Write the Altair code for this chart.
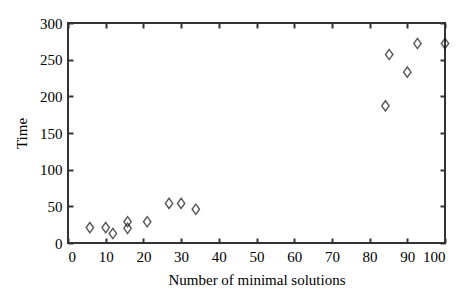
import altair as alt
import pandas as pd

# Data
xs = [5.8, 10.0, 11.9, 15.8, 15.8, 21.0, 26.8, 30.0, 33.9, 84.2, 85.2, 90.0, 92.7, 100.0]
ys = [21, 21, 13, 29, 20, 29, 54, 54, 46, 187, 257, 233, 272, 272]

x_ticks = [0, 10, 20, 30, 40, 50, 60, 70, 80, 90, 100]
y_ticks = [0, 50, 100, 150, 200, 250, 300]

W, H = 377, 220
FONT = "Liberation Serif"
LINE = "#333333"

df = pd.DataFrame({"x": xs, "y": ys})

xscale = alt.Scale(domain=[0, 100], nice=False, zero=False)
yscale = alt.Scale(domain=[0, 300], nice=False, zero=False)

common = dict(domain=False, grid=False, ticks=True, tickSize=5, tickWidth=2, tickColor=LINE,
              offset=-5)

x_bottom = alt.Axis(orient="bottom", values=x_ticks, title="Number of minimal solutions", **common)
y_left = alt.Axis(orient="left", values=y_ticks, title="Time", **common)
x_top = alt.Axis(orient="top", values=x_ticks, title=None, labels=False, **common)
y_right = alt.Axis(orient="right", values=y_ticks, title=None, labels=False, **common)

diamond = "M0,-1L0.72,0L0,1L-0.72,0Z"

points = alt.Chart(df).mark_point(shape=diamond, filled=False, size=105, stroke="#111111",
                                  strokeWidth=1.4).encode(
    x=alt.X("x:Q", scale=xscale, axis=x_bottom),
    y=alt.Y("y:Q", scale=yscale, axis=y_left),
)

# invisible copy that only carries the top and right tick marks
ghost = alt.Chart(df).mark_point(shape=diamond, filled=False, size=105, opacity=0).encode(
    x=alt.X("x:Q", scale=xscale, axis=x_top),
    y=alt.Y("y:Q", scale=yscale, axis=y_right),
)

chart = alt.layer(points, ghost).properties(
    width=W, height=H,
    padding={"left": 14, "top": 16, "right": 16, "bottom": 17},
).configure(
    font=FONT
).configure_axis(
    labelFontSize=15, titleFontSize=15, titleFontWeight="normal", labelPadding=6
).configure_axisX(
    titlePadding=8
).configure_axisY(
    titlePadding=10
).configure_view(stroke=LINE, strokeWidth=2)

chart.save("out.html", embed_options={"renderer": "svg", "actions": False})
